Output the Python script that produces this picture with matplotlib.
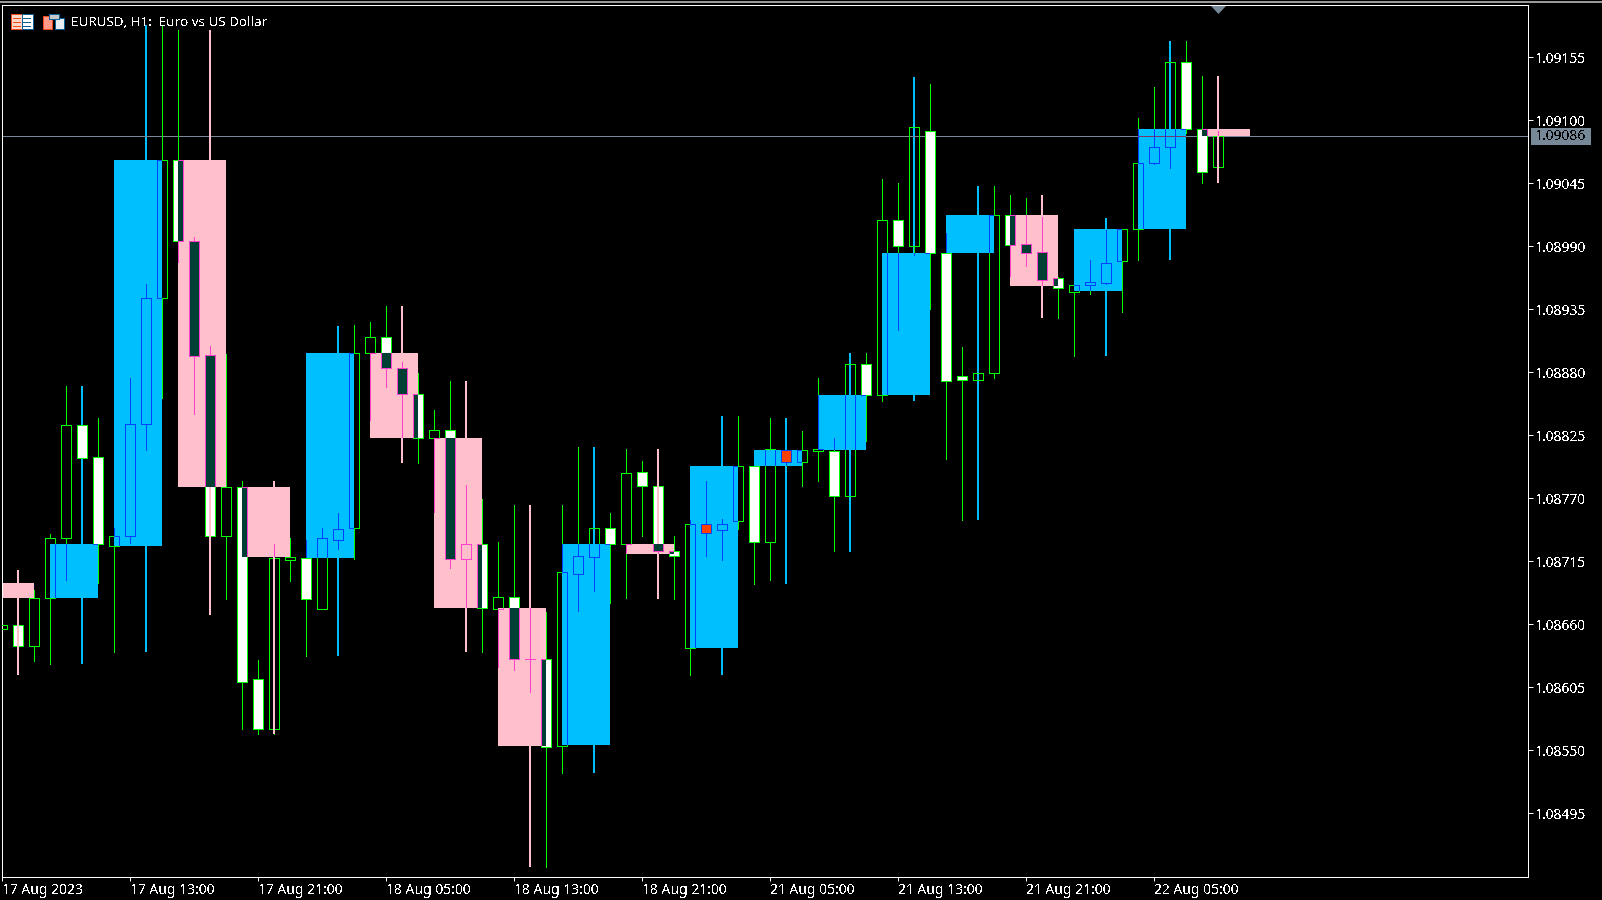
"""
    EURUSD H1 chart with H4 candles behind it, MetaTrader style.
    The small candles are painted XOR-like on the big ones, so each small
    candle is drawn once plain and then again clipped to the big candles.
"""

import matplotlib
matplotlib.use("Agg")
import matplotlib.pyplot as plt
import numpy as np
from matplotlib.patches import Polygon, Rectangle
from matplotlib.path import Path


# H1 candles, one per bar.
small_open = [
    1.08656, 1.08659, 1.08641, 1.08683, 1.08735, 1.08834, 1.08806, 1.08728,
    1.08737, 1.08835, 1.08945, 1.09065, 1.08995, 1.08895, 1.08737, 1.08780,
    1.08612, 1.08569, 1.08716, 1.08718, 1.08673, 1.08734, 1.08744, 1.08897,
    1.08911, 1.08884, 1.08861, 1.08823, 1.08830, 1.08717, 1.08730, 1.08673,
    1.08684, 1.08630, 1.08630, 1.08554, 1.08704, 1.08719, 1.08744, 1.08730,
    1.08793, 1.08781, 1.08724, 1.08639, 1.08748, 1.08742, 1.08750, 1.08798,
    1.08732, 1.08812, 1.08802, 1.08811, 1.08811, 1.08772, 1.08887, 1.08860,
    1.09013, 1.08990, 1.09091, 1.08984, 1.08877, 1.08873, 1.08879, 1.09017,
    1.08992, 1.08985, 1.08962, 1.08950, 1.08956, 1.08958, 1.08977, 1.09005,
    1.09063, 1.09077, 1.09151, 1.09092, 1.09059,
]
small_high = [
    1.08659, 1.08659, 1.08690, 1.08739, 1.08868, 1.08834, 1.08840, 1.08744,
    1.08875, 1.08957, 1.09182, 1.09179, 1.08998, 1.08903, 1.08896, 1.08785,
    1.08629, 1.08730, 1.08735, 1.08734, 1.08744, 1.08757, 1.08921, 1.08924,
    1.08938, 1.08889, 1.08879, 1.08847, 1.08872, 1.08782, 1.08769, 1.08732,
    1.08764, 1.08682, 1.08671, 1.08764, 1.08815, 1.08744, 1.08757, 1.08813,
    1.08803, 1.08795, 1.08737, 1.08751, 1.08785, 1.08752, 1.08842, 1.08798,
    1.08840, 1.08812, 1.08829, 1.08875, 1.08823, 1.08887, 1.08897, 1.09049,
    1.09045, 1.09094, 1.09132, 1.09002, 1.08902, 1.08879, 1.09043, 1.09035,
    1.09032, 1.09016, 1.08963, 1.08956, 1.08978, 1.09004, 1.09005, 1.09102,
    1.09129, 1.09151, 1.09169, 1.09139, 1.09091,
]
small_low = [
    1.08656, 1.08641, 1.08628, 1.08625, 1.08699, 1.08805, 1.08696, 1.08636,
    1.08731, 1.08812, 1.08858, 1.08976, 1.08844, 1.08734, 1.08682, 1.08569,
    1.08564, 1.08564, 1.08698, 1.08632, 1.08673, 1.08726, 1.08717, 1.08838,
    1.08867, 1.08823, 1.08801, 1.08758, 1.08709, 1.08671, 1.08636, 1.08623,
    1.08620, 1.08601, 1.08448, 1.08530, 1.08672, 1.08689, 1.08679, 1.08683,
    1.08737, 1.08721, 1.08682, 1.08616, 1.08720, 1.08716, 1.08743, 1.08695,
    1.08699, 1.08798, 1.08781, 1.08785, 1.08724, 1.08772, 1.08820, 1.08855,
    1.08917, 1.08982, 1.08935, 1.08804, 1.08751, 1.08873, 1.08875, 1.08964,
    1.08973, 1.08955, 1.08927, 1.08894, 1.08948, 1.08957, 1.08933, 1.08978,
    1.09062, 1.09058, 1.09089, 1.09045, 1.09059,
]
small_close = [
    1.08659, 1.08641, 1.08683, 1.08735, 1.08834, 1.08805, 1.08730, 1.08737,
    1.08835, 1.08945, 1.09065, 1.08995, 1.08894, 1.08737, 1.08780, 1.08610,
    1.08569, 1.08718, 1.08719, 1.08682, 1.08735, 1.08743, 1.08897, 1.08911,
    1.08884, 1.08861, 1.08823, 1.08830, 1.08717, 1.08730, 1.08674, 1.08684,
    1.08630, 1.08630, 1.08553, 1.08706, 1.08720, 1.08744, 1.08730, 1.08792,
    1.08781, 1.08724, 1.08720, 1.08748, 1.08740, 1.08748, 1.08798, 1.08732,
    1.08813, 1.08802, 1.08812, 1.08813, 1.08772, 1.08887, 1.08860, 1.09013,
    1.08990, 1.09094, 1.08984, 1.08872, 1.08873, 1.08879, 1.09017, 1.08991,
    1.08984, 1.08961, 1.08954, 1.08956, 1.08959, 1.08975, 1.09005, 1.09063,
    1.09077, 1.09151, 1.09092, 1.09055, 1.09086,
]

# H4 candles, each one covers four bars from big_start.
big_start = [-1, 3, 7, 11, 15, 19, 23, 27, 31, 35, 39, 43, 47, 51, 55, 59, 63,
             67, 71, 75]
big_wick_bar = [1, 5, 9, 13, 17, 21, 25, 29, 33, 37, 41, 45, 49, 53, 57, 61,
                65, 69, 73, 76]
big_open = [
    1.08696, 1.08683, 1.08728, 1.09065, 1.08780, 1.08718, 1.08897, 1.08823,
    1.08674, 1.08555, 1.08730, 1.08639, 1.08798, 1.08812, 1.08860, 1.08984,
    1.09017, 1.08951, 1.09005, 1.09092,
]
big_high = [
    1.08707, 1.08868, 1.09183, 1.09179, 1.08785, 1.08920, 1.08938, 1.08872,
    1.08764, 1.08815, 1.08813, 1.08842, 1.08840, 1.08897, 1.09138, 1.09043,
    1.09035, 1.09015, 1.09169, 1.09139,
]
big_low = [
    1.08616, 1.08625, 1.08636, 1.08668, 1.08564, 1.08632, 1.08801, 1.08636,
    1.08448, 1.08530, 1.08682, 1.08616, 1.08695, 1.08723, 1.08855, 1.08751,
    1.08927, 1.08894, 1.08978, 1.09045,
]
big_close = [
    1.08683, 1.08730, 1.09065, 1.08780, 1.08719, 1.08897, 1.08823, 1.08674,
    1.08554, 1.08730, 1.08721, 1.08798, 1.08812, 1.08860, 1.08984, 1.09017,
    1.08955, 1.09005, 1.09092, 1.09086,
]

current_price = 1.09086
price_ticks = [1.09155, 1.09100, 1.09045, 1.08990, 1.08935, 1.08880, 1.08825,
               1.08770, 1.08715, 1.08660, 1.08605, 1.08550, 1.08495]
time_ticks = [0, 8, 16, 24, 32, 40, 48, 56, 64, 72]
time_labels = ["17 Aug 2023", "17 Aug 13:00", "17 Aug 21:00", "18 Aug 05:00",
               "18 Aug 13:00", "18 Aug 21:00", "21 Aug 05:00", "21 Aug 13:00",
               "21 Aug 21:00", "22 Aug 05:00"]

WIDTH, HEIGHT = 1602, 900
PX = 0.72  # one pixel in points at dpi 100
LEFT, RIGHT, TOP, BOTTOM = 2.0, 1528.0, 5.0, 877.0
PX_PER_PRICE = 63 / 0.00055
ANCHOR_PX = 57.3  # where 1.09155 sits
FONT = "Noto Sans"

PINK = "#ffc0cb"
BLUE = "#00bfff"
GREEN = "#00ff00"
WHITE = "#ffffff"
SLATE = "#778899"
# What the XOR paint gives on top of the big bodies.
ON_PINK = ("#ff3fcb", "#003f34")
ON_BLUE = ("#0040ff", "#ff4000")


# Puts a rectangle on the figure, in screen pixels from the top left corner.
def pixel_rect(fig, x0, y0, x1, y1, color, edge="none"):
    fig.add_artist(Rectangle(
        (x0 / WIDTH, 1 - y1 / HEIGHT),
        (x1 - x0) / WIDTH,
        (y1 - y0) / HEIGHT,
        transform=fig.transFigure,
        facecolor=color,
        edgecolor=edge,
        linewidth=PX,
        antialiased=False
    ))


# Builds one clip path out of the big bodies selected by the mask.
def bodies_path(starts, tops, bottoms, mask):
    verts, codes = [], []
    for s, t, b, m in zip(starts, tops, bottoms, mask):
        if not m:
            continue
        verts += [(s, b), (s + 3, b), (s + 3, t), (s, t), (s, b)]
        codes += [Path.MOVETO, Path.LINETO, Path.LINETO, Path.LINETO,
                  Path.CLOSEPOLY]
    return Path(verts, codes)


# Draws all small candles in one colour pair, optionally clipped.
def draw_small(ax, line_color, fill_color, zorder, clip=None):
    bars = np.arange(len(small_open))
    opens = np.array(small_open)
    closes = np.array(small_close)
    highs = np.array(small_high)
    lows = np.array(small_low)
    tops = np.maximum(opens, closes)
    bottoms = np.minimum(opens, closes)
    down = closes < opens

    wicks = ax.vlines(
        np.r_[bars, bars],
        np.r_[tops, lows],
        np.r_[highs, bottoms],
        color=line_color,
        linewidth=PX,
        antialiased=False,
        zorder=zorder
    )
    hollow_bars = ax.bar(
        bars[~down],
        (tops - bottoms)[~down],
        0.625,
        bottom=bottoms[~down],
        facecolor="none",
        edgecolor=line_color,
        linewidth=PX,
        antialiased=False,
        zorder=zorder
    )
    filled_bars = ax.bar(
        bars[down],
        (tops - bottoms)[down],
        0.625,
        bottom=bottoms[down],
        facecolor=fill_color,
        edgecolor=line_color,
        linewidth=PX,
        antialiased=False,
        zorder=zorder
    )

    if clip is not None:
        wicks.set_clip_path(clip, ax.transData)
        for patch in list(hollow_bars) + list(filled_bars):
            patch.set_clip_path(clip, ax.transData)


def main():
    plt.rcParams["font.family"] = FONT
    plt.rcParams["text.antialiased"] = False

    fig = plt.figure(figsize=(WIDTH / 100, HEIGHT / 100), dpi=100,
                     facecolor="black")
    ax = fig.add_axes([
        LEFT / WIDTH,
        1 - BOTTOM / HEIGHT,
        (RIGHT - LEFT) / WIDTH,
        (BOTTOM - TOP) / HEIGHT
    ], facecolor="black")

    ax.set_xlim((LEFT - 2.33) / 16, (RIGHT - 2.33) / 16)
    ax.set_ylim(
        1.09155 - (BOTTOM - ANCHOR_PX) / PX_PER_PRICE,
        1.09155 + (ANCHOR_PX - TOP) / PX_PER_PRICE
    )

    # Big candles first, the wicks only outside of the bodies.
    starts = np.array(big_start)
    big_top = np.maximum(big_open, big_close)
    big_bot = np.minimum(big_open, big_close)
    is_blue = np.array(big_close) >= np.array(big_open)
    colors = [BLUE if b else PINK for b in is_blue]
    wick_bars = np.array(big_wick_bar)

    ax.bar(starts, big_top - big_bot, 3, bottom=big_bot, align="edge",
           color=colors, linewidth=0, antialiased=False, zorder=1)

    # Blue wicks lie under the small candles, the pink ones on top of them.
    for mask, color, zorder in ((is_blue, BLUE, 2), (~is_blue, PINK, 6)):
        ax.vlines(
            np.r_[wick_bars[mask], wick_bars[mask]],
            np.r_[big_top[mask], np.array(big_low)[mask]],
            np.r_[np.array(big_high)[mask], big_bot[mask]],
            color=color,
            linewidth=2 * PX,
            antialiased=False,
            zorder=zorder
        )

    pink_clip = bodies_path(starts, big_top, big_bot, ~is_blue)
    blue_clip = bodies_path(starts, big_top, big_bot, is_blue)

    # Current price line.
    ax.axhline(current_price, color=SLATE, linewidth=PX, antialiased=False,
               zorder=2.5)
    over_blue = ax.axhline(current_price, color="#773766", linewidth=PX,
                           antialiased=False, zorder=2.6)
    over_blue.set_clip_path(blue_clip, ax.transData)

    draw_small(ax, GREEN, WHITE, 3)
    draw_small(ax, ON_PINK[0], ON_PINK[1], 4, pink_clip)
    draw_small(ax, ON_BLUE[0], ON_BLUE[1], 5, blue_clip)

    # Axis frame, ticks and labels.
    for spine in ax.spines.values():
        spine.set_color(WHITE)
        spine.set_linewidth(PX)

    ax.yaxis.tick_right()
    ax.set_yticks(price_ticks)
    ax.set_yticklabels([f"{p:.5f}" for p in price_ticks])
    ax.tick_params(axis="y", colors=WHITE, length=3.6, width=PX, pad=1.2,
                   labelsize=10)

    ax.set_xticks(time_ticks)
    ax.set_xticklabels(time_labels, ha="left")
    ax.tick_params(axis="x", colors=WHITE, length=3, width=PX, pad=1.5,
                   labelsize=10)

    # Current price tag on the price axis.
    pixel_rect(fig, 1531, 128, 1591, 145, SLATE)
    fig.text(1535 / WIDTH, 1 - 136.5 / HEIGHT, f"{current_price:.5f}",
             color="black", fontsize=10, va="center", ha="left")

    # Window strip and the chart shift marker along the top.
    pixel_rect(fig, 0, 0.5, WIDTH, 3, "#9a9a9a")
    fig.add_artist(Polygon(
        [(1211 / WIDTH, 1 - 6 / HEIGHT), (1226 / WIDTH, 1 - 6 / HEIGHT),
         (1218.5 / WIDTH, 1 - 14 / HEIGHT)],
        closed=True,
        transform=fig.transFigure,
        facecolor=SLATE,
        edgecolor="none"
    ))

    # Chart title with its two little icons.
    pixel_rect(fig, 11, 14, 22, 29, "#ffd8c8", "#f04a20")
    pixel_rect(fig, 22, 14, 33, 29, "#ffffff", "#0a5f96")
    for y in (18, 22, 26):
        pixel_rect(fig, 13, y, 21, y + 1, "#f04a20")
        pixel_rect(fig, 23, y, 31, y + 1, "#0a5f96")
    pixel_rect(fig, 43, 16, 52, 29, "#ff9a88", "#f04a20")
    pixel_rect(fig, 55, 18, 64, 29, "#e8eef4", "#0a5f96")
    pixel_rect(fig, 49, 14, 59, 19, "#c8c8c8", "#0a5f96")

    fig.text(71 / WIDTH, 1 - 22 / HEIGHT, "EURUSD, H1:  Euro vs US Dollar",
             color=WHITE, fontsize=9.7, va="center", ha="left")

    fig.savefig("out.png", dpi=100, facecolor="black")


if __name__ == "__main__":
    main()
